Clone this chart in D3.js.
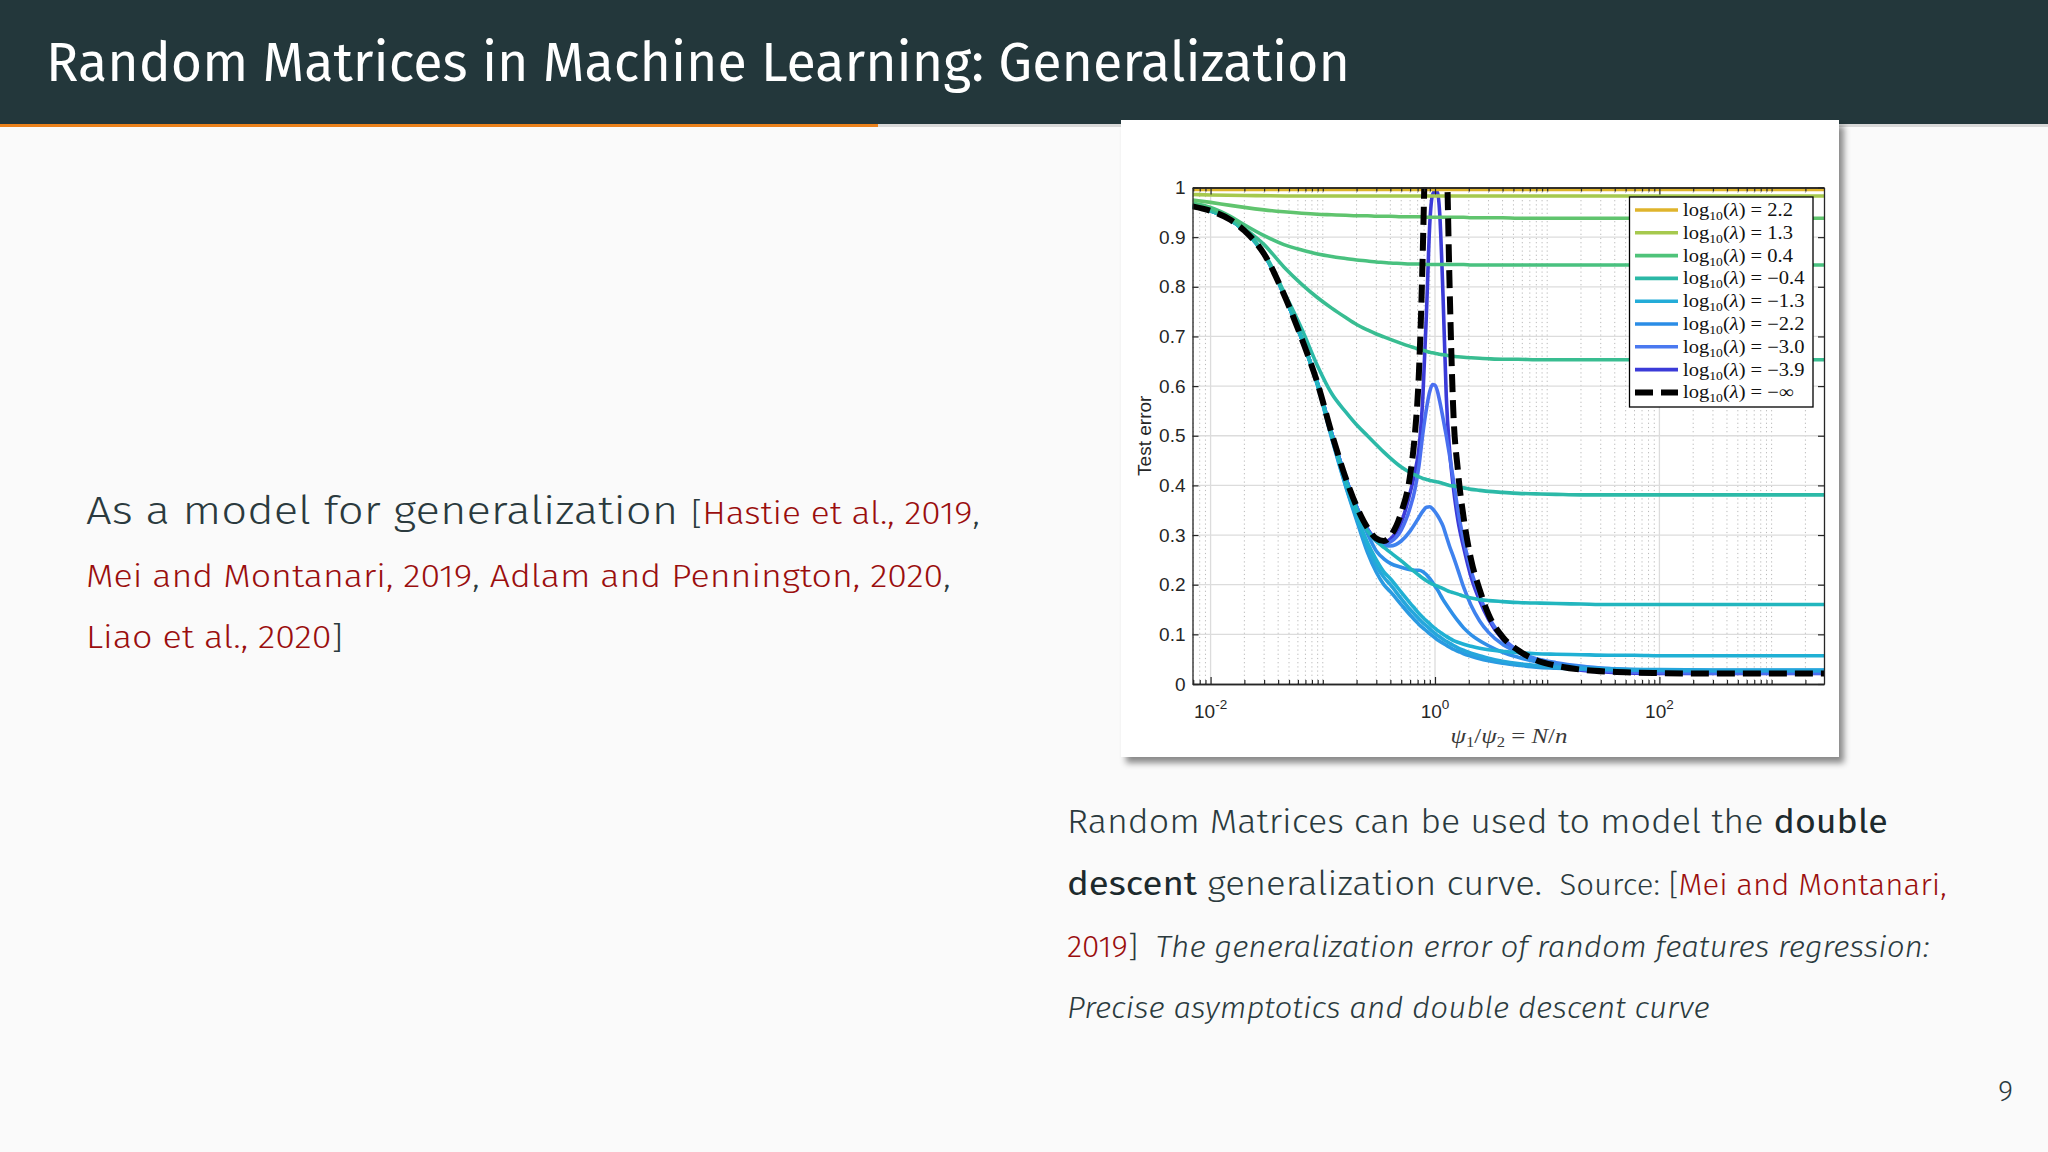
<!DOCTYPE html>
<html>
<head>
<meta charset="utf-8">
<script src="https://cdn.jsdelivr.net/npm/d3@7"></script>
<style>
  html, body { margin: 0; padding: 0; background: #fafafa; }
  svg { display: block; }
  text { white-space: pre; }
</style>
</head>
<body>
<svg id="slide" width="2048" height="1152"></svg>
<script>
// ---------- chart data ----------
// shared x positions (psi1/psi2 = N/n) for the curves
const xGrid = [0.0069, 0.01, 0.015, 0.02, 0.03, 0.045, 0.065, 0.09, 0.12, 0.16,
  0.2, 0.25, 0.3, 0.35, 0.4, 0.5, 0.6, 0.66, 0.72, 0.78,
  0.84, 0.9, 0.95, 1.0, 1.05, 1.1, 1.18, 1.26, 1.35, 1.45,
  1.6, 1.8, 2.1, 2.5, 3, 4, 5.5, 8, 12, 20,
  35, 60, 100, 300, 2930];
// flat curves only need a few points
const xFlat = [0.0069, 0.01, 0.02, 0.05, 1, 100, 2930];

// lambda -> -inf (black dashed); values above 1 run off the top of the axes
const curveNoReg = [0.962, 0.953, 0.935, 0.913, 0.866, 0.785, 0.695, 0.605, 0.505, 0.415,
  0.358, 0.315, 0.293, 0.288, 0.298, 0.345, 0.42, 0.50, 0.63, 0.88,
  1.25, 1.8, 2.5, 3.0, 2.5, 1.9, 1.4, 1.12, 0.8, 0.56,
  0.43, 0.335, 0.25, 0.19, 0.14, 0.095, 0.068, 0.048, 0.037, 0.029,
  0.025, 0.023, 0.022, 0.021, 0.021];
// smallest lambda, peak ~0.99
const curve01 = [0.962, 0.953, 0.935, 0.913, 0.866, 0.785, 0.695, 0.605, 0.505, 0.415,
  0.357, 0.313, 0.291, 0.285, 0.292, 0.325, 0.385, 0.425, 0.475, 0.58,
  0.75, 0.93, 0.985, 0.993, 0.99, 0.95, 0.78, 0.58, 0.47, 0.4,
  0.33, 0.275, 0.215, 0.168, 0.13, 0.09, 0.065, 0.047, 0.036, 0.028,
  0.024, 0.022, 0.021, 0.021, 0.021];
// peak ~0.6
const curve02 = [0.962, 0.953, 0.935, 0.913, 0.866, 0.785, 0.695, 0.605, 0.505, 0.415,
  0.357, 0.312, 0.289, 0.282, 0.286, 0.31, 0.355, 0.39, 0.44, 0.505,
  0.555, 0.59, 0.603, 0.602, 0.59, 0.57, 0.535, 0.5, 0.46, 0.415,
  0.35, 0.29, 0.228, 0.178, 0.136, 0.094, 0.067, 0.049, 0.038, 0.03,
  0.026, 0.024, 0.023, 0.022, 0.022];
// peak ~0.36
const curve03 = [0.962, 0.953, 0.935, 0.913, 0.866, 0.785, 0.695, 0.605, 0.505, 0.415,
  0.357, 0.311, 0.287, 0.279, 0.278, 0.288, 0.308, 0.322, 0.336, 0.348,
  0.356, 0.357, 0.353, 0.347, 0.34, 0.332, 0.318, 0.298, 0.277, 0.258,
  0.23, 0.195, 0.158, 0.127, 0.104, 0.08, 0.064, 0.051, 0.043, 0.036,
  0.031, 0.028, 0.027, 0.026, 0.026];
// small bump ~0.23
const curve04 = [0.962, 0.953, 0.935, 0.913, 0.866, 0.785, 0.695, 0.605, 0.505, 0.415,
  0.355, 0.303, 0.268, 0.252, 0.243, 0.235, 0.23, 0.229, 0.229, 0.226,
  0.22, 0.212, 0.205, 0.197, 0.19, 0.182, 0.17, 0.16, 0.15, 0.14,
  0.127, 0.113, 0.099, 0.087, 0.077, 0.064, 0.054, 0.045, 0.039, 0.034,
  0.031, 0.029, 0.028, 0.027, 0.027];
// lowest smooth curve
const curve05 = [0.962, 0.953, 0.935, 0.913, 0.866, 0.785, 0.695, 0.6, 0.495, 0.398,
  0.33, 0.265, 0.225, 0.2, 0.186, 0.16, 0.139, 0.129, 0.12, 0.113,
  0.107, 0.101, 0.097, 0.093, 0.089, 0.086, 0.082, 0.078, 0.074, 0.07,
  0.066, 0.061, 0.056, 0.051, 0.047, 0.042, 0.038, 0.034, 0.032, 0.03,
  0.029, 0.028, 0.028, 0.027, 0.027];
const curve06 = [0.962, 0.953, 0.935, 0.913, 0.866, 0.785, 0.695, 0.602, 0.498, 0.4,
  0.335, 0.275, 0.238, 0.215, 0.2, 0.172, 0.15, 0.14, 0.131, 0.123,
  0.117, 0.111, 0.106, 0.102, 0.098, 0.095, 0.09, 0.086, 0.082, 0.078,
  0.073, 0.068, 0.062, 0.057, 0.052, 0.046, 0.041, 0.037, 0.034, 0.032,
  0.03, 0.029, 0.029, 0.028, 0.028];
// plateau ~0.057
const curve07 = [0.962, 0.953, 0.935, 0.913, 0.866, 0.785, 0.695, 0.603, 0.5, 0.405,
  0.34, 0.285, 0.25, 0.226, 0.212, 0.185, 0.163, 0.152, 0.142, 0.134,
  0.127, 0.121, 0.116, 0.112, 0.108, 0.105, 0.1, 0.096, 0.092, 0.088,
  0.084, 0.08, 0.076, 0.072, 0.069, 0.066, 0.063, 0.061, 0.06, 0.059,
  0.058, 0.058, 0.057, 0.057, 0.057];
// plateau ~0.16
const curve08 = [0.962, 0.953, 0.935, 0.913, 0.866, 0.785, 0.695, 0.603, 0.502, 0.41,
  0.352, 0.308, 0.288, 0.275, 0.265, 0.248, 0.233, 0.226, 0.219, 0.213,
  0.208, 0.204, 0.201, 0.199, 0.197, 0.195, 0.192, 0.189, 0.186, 0.184,
  0.181, 0.177, 0.173, 0.17, 0.168, 0.166, 0.164, 0.163, 0.162, 0.161,
  0.16, 0.16, 0.16, 0.16, 0.16];
// plateau ~0.38
const curve09 = [0.962, 0.953, 0.935, 0.913, 0.868, 0.79, 0.715, 0.64, 0.585, 0.548,
  0.522, 0.5, 0.482, 0.467, 0.455, 0.437, 0.426, 0.421, 0.417, 0.414,
  0.412, 0.41, 0.409, 0.408, 0.407, 0.406, 0.404, 0.402, 0.4, 0.399,
  0.397, 0.395, 0.392, 0.39, 0.388, 0.386, 0.384, 0.383, 0.382, 0.381,
  0.381, 0.381, 0.381, 0.381, 0.381];
// plateau ~0.65
const curve10 = [0.966, 0.957, 0.94, 0.918, 0.885, 0.84, 0.805, 0.778, 0.757, 0.738,
  0.724, 0.713, 0.705, 0.699, 0.694, 0.686, 0.68, 0.677, 0.674, 0.672,
  0.67, 0.668, 0.667, 0.666, 0.665, 0.664, 0.663, 0.662, 0.661, 0.66,
  0.659, 0.658, 0.657, 0.656, 0.655, 0.654, 0.654, 0.653, 0.653, 0.653,
  0.653, 0.653, 0.653, 0.653, 0.653];
// plateau ~0.845
const curve11 = [0.969, 0.96, 0.942, 0.925, 0.903, 0.885, 0.874, 0.866, 0.861, 0.857,
  0.854, 0.852, 0.85, 0.849, 0.848, 0.847, 0.846, 0.846, 0.846, 0.846,
  0.845, 0.845, 0.845, 0.845, 0.845, 0.845, 0.845, 0.845, 0.845, 0.845,
  0.845, 0.845, 0.844, 0.844, 0.844, 0.844, 0.844, 0.844, 0.844, 0.844,
  0.844, 0.844, 0.844, 0.844, 0.844];
// plateau ~0.94
const curve12 = [0.975, 0.97, 0.964, 0.96, 0.955, 0.951, 0.948, 0.946, 0.945, 0.944,
  0.943, 0.943, 0.942, 0.942, 0.942, 0.941, 0.941, 0.941, 0.941, 0.941,
  0.94, 0.94, 0.94, 0.94, 0.94, 0.94, 0.94, 0.94, 0.94, 0.94,
  0.94, 0.94, 0.939, 0.939, 0.939, 0.939, 0.938, 0.938, 0.938, 0.938,
  0.938, 0.938, 0.938, 0.938, 0.938];
const curve13 = [0.986, 0.985, 0.984, 0.983, 0.983, 0.983, 0.983];
const curve14 = [0.996, 0.996, 0.996, 0.996, 0.996, 0.996, 0.996];

const curveColors = ["#3b3bd8", "#4a6ff0", "#3f82ee", "#2f8fe8", "#2a9ae2", "#25a6dc", "#20b0d4",
  "#22b6be", "#2cb9a7", "#39bd91", "#49c17f", "#60c46e", "#a6c94e", "#dfb42c"];

const legendLabels = ["2.2", "1.3", "0.4", "\u22120.4", "\u22121.3", "\u22122.2", "\u22123.0", "\u22123.9", "\u2212\u221e"];
const legendColors = ["#dfb42c", "#a6c94e", "#4fc37a", "#2bb8a6", "#23acd8", "#2b8de6", "#4a79f0", "#3b3bd8", "#000000"];

const yTicks = [0, 0.1, 0.2, 0.3, 0.4, 0.5, 0.6, 0.7, 0.8, 0.9, 1];
const yTickLabels = ["0", "0.1", "0.2", "0.3", "0.4", "0.5", "0.6", "0.7", "0.8", "0.9", "1"];
const xMajor = [0.01, 1, 100];
const xTickExps = ["-2", "0", "2"];

// ---------- slide ----------
const W = 2048, H = 1152;
const sans = "'Fira Sans', 'Open Sans', 'Noto Sans', sans-serif";
const axisFont = "'Liberation Sans', Arial, sans-serif";
const serif = "'Liberation Serif', 'DejaVu Serif', serif";
const ink = "#2b3a3e";
const red = "#9a0e0e";

const svg = d3.select("#slide");

const defs = svg.append("defs");
const shadow = defs.append("filter").attr("id", "shadow")
  .attr("x", "-5%").attr("y", "-5%").attr("width", "115%").attr("height", "115%");
shadow.append("feDropShadow")
  .attr("dx", 5).attr("dy", 6).attr("stdDeviation", 3)
  .attr("flood-color", "#000").attr("flood-opacity", 0.45);

svg.append("rect").attr("width", W).attr("height", H).attr("fill", "#fafafa");

// title bar + progress bar
svg.append("rect").attr("width", W).attr("height", 124).attr("fill", "#23373b");
svg.append("rect").attr("y", 124).attr("width", W).attr("height", 3).attr("fill", "#d8d8d8");
svg.append("rect").attr("y", 124).attr("width", 878).attr("height", 3).attr("fill", "#eb811b");

// stretch a text line so it spans the same width as in the slide
function fitWidth(t, x0, target) {
  const w = t.node().getBBox().width;
  t.attr("transform", `translate(${x0},0) scale(${target / w},1) translate(${-x0},0)`);
}

function textLine(x, y, parts, width) {
  const t = svg.append("text")
    .attr("x", x).attr("y", y)
    .attr("font-family", sans)
    .attr("font-weight", 300)
    .attr("fill", ink);
  parts.forEach((p) => {
    t.append("tspan")
      .text(p.t)
      .attr("font-size", p.size)
      .attr("fill", p.red ? red : p.bold ? "#1d2a2d" : ink)
      .attr("font-weight", p.bold ? 400 : null)
      .attr("font-style", p.italic ? "italic" : null);
  });
  if (width) fitWidth(t, x, width);
  return t;
}

const title = svg.append("text")
  .attr("x", 46).attr("y", 81)
  .attr("font-family", sans).attr("font-size", 55).attr("font-weight", 400)
  .attr("fill", "#ffffff")
  .text("Random Matrices in Machine Learning: Generalization");
fitWidth(title, 46, 1304);

// left column text
textLine(86, 524, [
  { t: "As a model for generalization ", size: 40 },
  { t: "[", size: 31 },
  { t: "Hastie et al., 2019", size: 31, red: true },
  { t: ",", size: 31 }
], 894);
textLine(86, 587, [
  { t: "Mei and Montanari, 2019", size: 31, red: true },
  { t: ", ", size: 31 },
  { t: "Adlam and Pennington, 2020", size: 31, red: true },
  { t: ",", size: 31 }
], 865);
textLine(86, 648, [
  { t: "Liao et al., 2020", size: 31, red: true },
  { t: "]", size: 31 }
], 257);

// caption
textLine(1067, 833, [
  { t: "Random Matrices can be used to model the ", size: 34 },
  { t: "double", size: 34, bold: true }
], 821);
textLine(1067, 895, [
  { t: "descent", size: 34, bold: true },
  { t: " generalization curve.", size: 34 },
  { t: "  Source: [", size: 29 },
  { t: "Mei and Montanari,", size: 29, red: true }
], 880);
textLine(1067, 957, [
  { t: "2019", size: 29, red: true },
  { t: "]  ", size: 29 },
  { t: "The generalization error of random features regression:", size: 29, italic: true }
], 863);
textLine(1067, 1018, [
  { t: "Precise asymptotics and double descent curve", size: 29, italic: true }
], 643);

svg.append("text")
  .attr("x", 2013).attr("y", 1102).attr("text-anchor", "end")
  .attr("font-family", sans).attr("font-weight", 300).attr("font-size", 29)
  .attr("fill", ink).text("9");

// ---------- figure card ----------
svg.append("rect")
  .attr("x", 1121).attr("y", 120).attr("width", 718).attr("height", 637)
  .attr("fill", "#ffffff").attr("filter", "url(#shadow)");

const plot = svg.append("g");
const plotLeft = 1192.5, plotRight = 1824, plotTop = 187.5, plotBottom = 684;

const x = d3.scaleLog().domain([0.0069, 2930]).range([plotLeft, plotRight]);
const y = d3.scaleLinear().domain([0, 1]).range([plotBottom, plotTop]);

const xMinor = x.ticks().filter((v) => !xMajor.some((m) => Math.abs(v - m) / m < 1e-9));

// grid
plot.append("g").selectAll("line").data(xMinor).join("line")
  .attr("x1", (d) => x(d)).attr("x2", (d) => x(d))
  .attr("y1", plotTop).attr("y2", plotBottom)
  .attr("stroke", "#b8b8b8").attr("stroke-width", 1).attr("stroke-dasharray", "1.2,3");
plot.append("g").selectAll("line").data(xMajor).join("line")
  .attr("x1", (d) => x(d)).attr("x2", (d) => x(d))
  .attr("y1", plotTop).attr("y2", plotBottom)
  .attr("stroke", "#dcdcdc").attr("stroke-width", 1.3);
plot.append("g").selectAll("line").data(yTicks.slice(1, -1)).join("line")
  .attr("x1", plotLeft).attr("x2", plotRight)
  .attr("y1", (d) => y(d)).attr("y2", (d) => y(d))
  .attr("stroke", "#dcdcdc").attr("stroke-width", 1.3);

// curves
defs.append("clipPath").attr("id", "plot-clip")
  .append("rect").attr("x", plotLeft).attr("y", plotTop)
  .attr("width", plotRight - plotLeft).attr("height", plotBottom - plotTop);

const curves = [
  [xGrid, curve01], [xGrid, curve02], [xGrid, curve03], [xGrid, curve04],
  [xGrid, curve05], [xGrid, curve06], [xGrid, curve07], [xGrid, curve08],
  [xGrid, curve09], [xGrid, curve10], [xGrid, curve11], [xGrid, curve12],
  [xFlat, curve13], [xFlat, curve14]
];

const line = d3.line()
  .x((d) => x(d[0]))
  .y((d) => y(d[1]))
  .curve(d3.curveMonotoneX);

const curveG = plot.append("g").attr("clip-path", "url(#plot-clip)");
curves.forEach(([xs, ys], i) => {
  curveG.append("path")
    .datum(d3.zip(xs, ys))
    .attr("d", line)
    .attr("fill", "none")
    .attr("stroke", curveColors[i])
    .attr("stroke-width", 3.6);
});
curveG.append("path")
  .datum(d3.zip(xGrid, curveNoReg))
  .attr("d", line)
  .attr("fill", "none")
  .attr("stroke", "#000")
  .attr("stroke-width", 6)
  .attr("stroke-dasharray", "18,8");

// axes (MATLAB style box, ticks inside)
function styleAxis(g) {
  g.select(".domain").attr("stroke", "#262626").attr("stroke-width", 1.3);
  g.selectAll(".tick line").attr("stroke", "#262626").attr("stroke-width", 1.2);
  g.selectAll("text").attr("font-family", axisFont).attr("font-size", 19).attr("fill", "#262626");
}

plot.append("g").attr("transform", `translate(0,${plotBottom})`)
  .call(d3.axisBottom(x).tickValues(xMajor).tickSize(-7).tickSizeOuter(0).tickFormat(""))
  .call(styleAxis);
plot.append("g").attr("transform", `translate(0,${plotBottom})`)
  .call(d3.axisBottom(x).tickValues(xMinor).tickSize(-4).tickSizeOuter(0).tickFormat(""))
  .call(styleAxis);
plot.append("g").attr("transform", `translate(0,${plotTop})`)
  .call(d3.axisTop(x).tickValues(xMajor).tickSize(-7).tickSizeOuter(0).tickFormat(""))
  .call(styleAxis);
plot.append("g").attr("transform", `translate(0,${plotTop})`)
  .call(d3.axisTop(x).tickValues(xMinor).tickSize(-4).tickSizeOuter(0).tickFormat(""))
  .call(styleAxis);
plot.append("g").attr("transform", `translate(${plotLeft},0)`)
  .call(d3.axisLeft(y).tickValues(yTicks).tickSize(-6).tickSizeOuter(0).tickPadding(7)
    .tickFormat((d, i) => yTickLabels[i]))
  .call(styleAxis);
plot.append("g").attr("transform", `translate(${plotRight},0)`)
  .call(d3.axisRight(y).tickValues(yTicks).tickSize(-6).tickSizeOuter(0).tickFormat(""))
  .call(styleAxis);

// x tick labels 10^k
xMajor.forEach((v, i) => {
  const t = plot.append("text")
    .attr("x", x(v)).attr("y", 718)
    .attr("text-anchor", "middle")
    .attr("font-family", axisFont).attr("font-size", 19).attr("fill", "#262626");
  t.append("tspan").text("10");
  t.append("tspan").text(xTickExps[i]).attr("font-size", 13.5).attr("dy", -9);
});

// axis titles
plot.append("text")
  .attr("transform", `translate(1151,${y(0.5)}) rotate(-90)`)
  .attr("text-anchor", "middle")
  .attr("font-family", axisFont).attr("font-size", 19).attr("fill", "#262626")
  .text("Test error");

const xl = plot.append("text")
  .attr("x", 1509).attr("y", 743)
  .attr("text-anchor", "middle")
  .attr("font-family", serif).attr("font-size", 21).attr("fill", "#3a3a3a");
xl.append("tspan").text("\u03c8").attr("font-style", "italic");
xl.append("tspan").text("1").attr("font-size", 14).attr("dy", 4);
xl.append("tspan").text("/").attr("dy", -4);
xl.append("tspan").text("\u03c8").attr("font-style", "italic");
xl.append("tspan").text("2").attr("font-size", 14).attr("dy", 4);
xl.append("tspan").text(" = ").attr("dy", -4);
xl.append("tspan").text("N").attr("font-style", "italic");
xl.append("tspan").text("/");
xl.append("tspan").text("n").attr("font-style", "italic");
{
  const w = xl.node().getBBox().width;
  xl.attr("transform", `translate(1509,0) scale(${117 / w},1) translate(-1509,0)`);
}

// legend
const lg = plot.append("g");
lg.append("rect")
  .attr("x", 1629.5).attr("y", 197).attr("width", 183.5).attr("height", 210)
  .attr("fill", "#ffffff").attr("stroke", "#000").attr("stroke-width", 1.3);

const legendTexts = [];
legendLabels.forEach((lab, i) => {
  const cy = 210 + i * 22.8;
  const isNoReg = i === legendLabels.length - 1;
  lg.append("line")
    .attr("x1", 1635).attr("x2", 1678).attr("y1", cy).attr("y2", cy)
    .attr("stroke", legendColors[i])
    .attr("stroke-width", isNoReg ? 6 : 3.6)
    .attr("stroke-dasharray", isNoReg ? "18,8" : null);
  const t = lg.append("text")
    .attr("x", 1683).attr("y", cy + 6)
    .attr("font-family", serif).attr("font-size", 18).attr("fill", "#111");
  t.append("tspan").text("log");
  t.append("tspan").text("10").attr("font-size", 12).attr("dy", 4);
  t.append("tspan").text("(").attr("dy", -4);
  t.append("tspan").text("\u03bb").attr("font-style", "italic");
  t.append("tspan").text(") = " + lab);
  legendTexts.push(t);
});
const legendScale = 110 / legendTexts[0].node().getBBox().width;
legendTexts.forEach((t) => {
  t.attr("transform", `translate(1683,0) scale(${legendScale},1) translate(-1683,0)`);
});
</script>
</body>
</html>
